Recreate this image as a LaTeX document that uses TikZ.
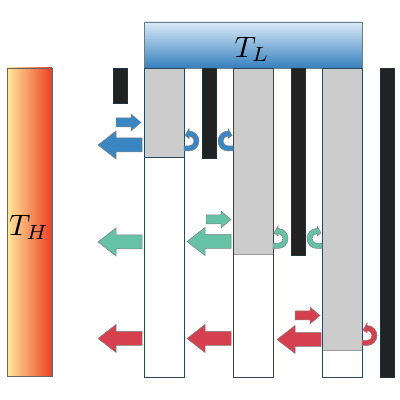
\documentclass[tikz,border=0pt]{standalone}
\definecolor{blueA}{HTML}{3A86C2}
\definecolor{greenA}{HTML}{66C2A5}
\definecolor{redA}{HTML}{D6404E}
\definecolor{edgeC}{HTML}{2C4856}
\definecolor{barC}{HTML}{222222}
\definecolor{grayF}{HTML}{CCCCCC}
\definecolor{tlTop}{HTML}{DCEBF7}
\definecolor{tlBot}{HTML}{3580BE}
\definecolor{thL}{HTML}{FFE89C}
\definecolor{thM}{HTML}{FDB25C}
\definecolor{thR}{HTML}{EE3F24}
\begin{document}
\begin{tikzpicture}[x=1pt,y=1pt,
  arredge/.style={draw=black!50,line width=0.5pt,line join=miter},
  colbox/.style={draw=edgeC,line width=0.9pt},
  barbox/.style={fill=barC,draw=edgeC!70!black,line width=0.8pt},
  bigleft/.pic={\path[arredge,fill=#1] (0,0)--(18,14)--(18,7)--(44,7)--(44,-7)--(18,-7)--(18,-14)--cycle;},
  smallright/.pic={\path[arredge,fill=#1] (0,0)--(-10,8.5)--(-10,4.5)--(-25,4.5)--(-25,-4.5)--(-10,-4.5)--(-10,-8.5)--cycle;},
  curl/.pic={\path[arredge,fill=#1] (0,-10)--(5,-10) arc[start angle=-90,end angle=90,radius=10] -- (5,12.5) -- (1,5.5) -- (5,2.5) -- (5,5) arc[start angle=90,end angle=-90,radius=5] -- (0,-5) -- cycle;},
  lbl/.style={scale=2.95,inner sep=0pt,anchor=base}
]
\fill[white] (0,0) rectangle (400,400);
\useasboundingbox (0,0) rectangle (400,400);

% hot reservoir
\shade[left color=thL,middle color=thM,right color=thR] (7,24) rectangle (52,332);
\draw[draw=black!60,line width=0.6pt] (7,24) rectangle (52,332);
\node[lbl] (TH) at (29,165) {$T_H$};

% cold reservoir
\shade[top color=tlTop,bottom color=tlBot] (144,332) rectangle (362,378);
\draw[draw=edgeC!70,line width=0.6pt] (144,332) rectangle (362,378);
\node[lbl] (TL) at (252,342.5) {$T_L$};

% columns
\fill[white] (144,23) rectangle (184,332);
\fill[grayF] (144,243) rectangle (184,332);
\draw[edgeC,line width=0.8pt] (144,243) -- (184,243);
\draw[colbox] (144,23) rectangle (184,332);

\fill[white] (233,23) rectangle (273,332);
\fill[grayF] (233,145.5) rectangle (273,332);
\draw[black!40,line width=0.8pt] (233,145.5) -- (273,145.5);
\draw[colbox] (233,23) rectangle (273,332);

\fill[white] (322,23) rectangle (362,332);
\fill[grayF] (322,49.5) rectangle (362,332);
\draw[black!40,line width=0.8pt] (322,49.5) -- (362,49.5);
\draw[colbox] (322,23) rectangle (362,332);

% black bars
\draw[barbox] (113,297) rectangle (127,332);
\draw[barbox] (202,242) rectangle (216,332);
\draw[barbox] (291,145) rectangle (305,332);
\draw[barbox] (380,23) rectangle (394,332);

% blue level
\pic (b1) at (98,255) {bigleft=blueA};
\pic (b2) at (141,277.5) {smallright=blueA};
\pic (b3) at (184,259) {curl=blueA};
\pic[xscale=-1] (b4) at (233,259) {curl=blueA};

% green level
\pic (g1) at (98,158) {bigleft=greenA};
\pic (g2) at (187,158.5) {bigleft=greenA};
\pic (g3) at (231,180.5) {smallright=greenA};
\pic (g4) at (273,161.5) {curl=greenA};
\pic[xscale=-1] (g5) at (322,161.5) {curl=greenA};

% red level
\pic (r1) at (98,61.5) {bigleft=redA};
\pic (r2) at (187,61.5) {bigleft=redA};
\pic (r3) at (277,60.5) {bigleft=redA};
\pic (r4) at (320,84.5) {smallright=redA};
\pic (r5) at (362,64.5) {curl=redA};
\end{tikzpicture}
\end{document}
